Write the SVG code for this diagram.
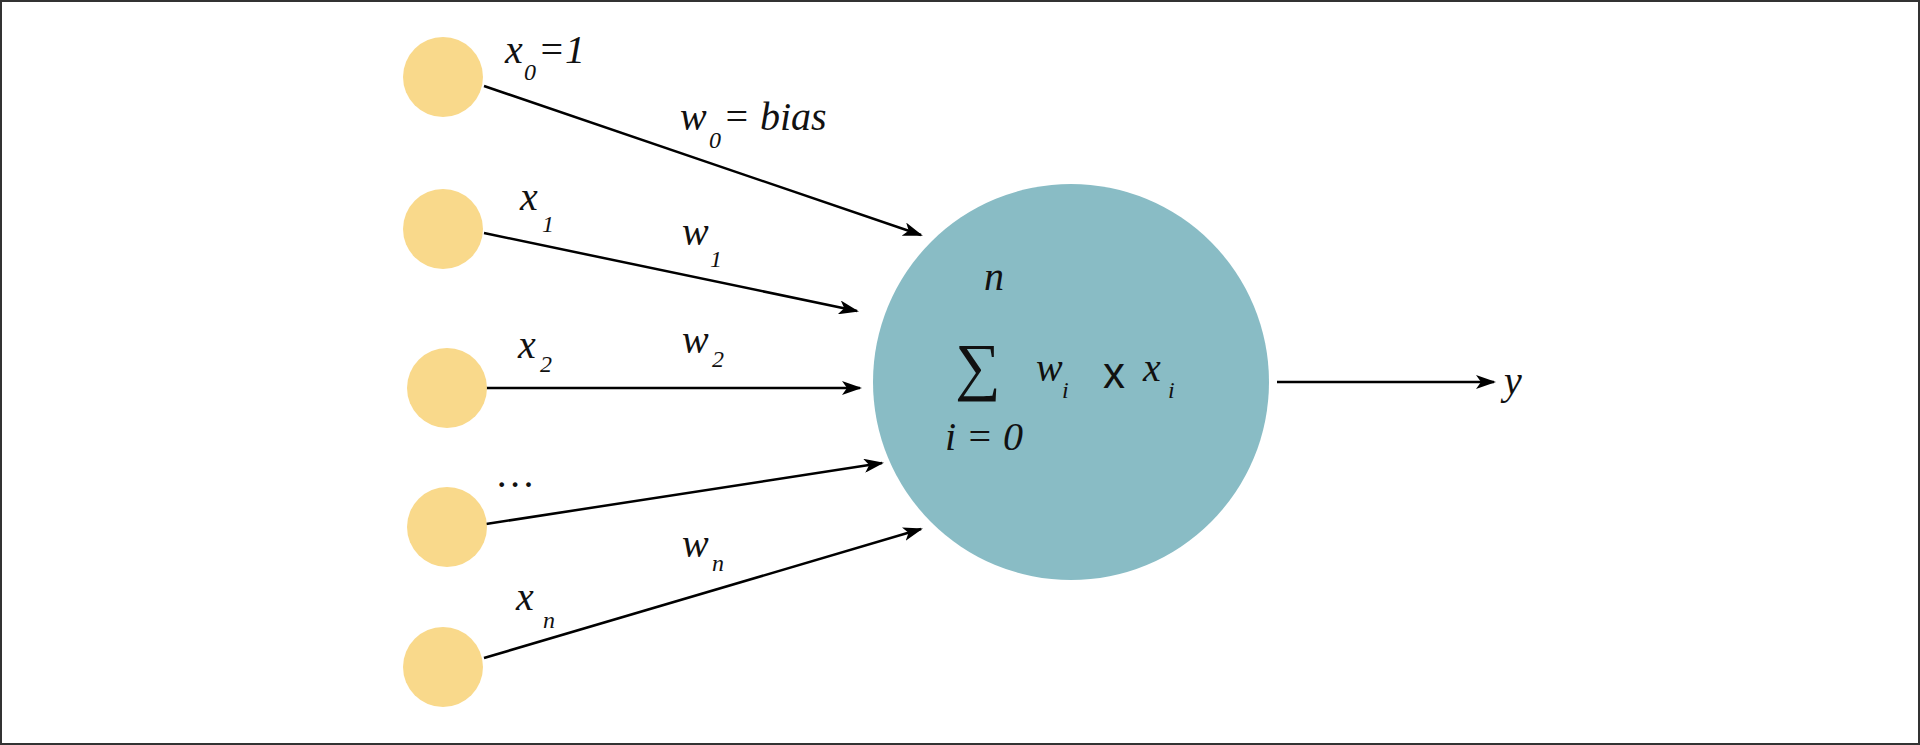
<svg xmlns="http://www.w3.org/2000/svg" width="1920" height="745" viewBox="0 0 1920 745">
<style>
.in{fill:#f9d98b}
.t{font-family:"Liberation Serif",serif;font-style:italic;font-size:40px;fill:#111}
.s{font-family:"Liberation Serif",serif;font-style:italic;font-size:24px;fill:#111}
.c{stroke:#000;stroke-width:2.5;fill:none;marker-end:url(#a)}
</style>
<defs><marker id="a" viewBox="0 0 20 14" refX="18" refY="7" markerWidth="20" markerHeight="14" markerUnits="userSpaceOnUse" orient="auto"><path d="M0,0 L20,7 L0,14 L5,7 Z" fill="#000"/></marker></defs>
<rect x="1" y="1" width="1918" height="743" fill="#fff" stroke="#333" stroke-width="2"/>
<g id="connectors">
<line class="c" x1="484" y1="86" x2="921" y2="235"/>
<line class="c" x1="484" y1="233" x2="857" y2="311"/>
<line class="c" x1="486" y1="388" x2="860" y2="388"/>
<line class="c" x1="486" y1="524" x2="882" y2="463"/>
<line class="c" x1="484" y1="658" x2="921" y2="529"/>
<line class="c" x1="1277" y1="382" x2="1494" y2="382"/>
</g>
<g id="x0"><circle class="in" cx="443" cy="77" r="40"/></g>
<g id="x1"><circle class="in" cx="443" cy="229" r="40"/></g>
<g id="x2"><circle class="in" cx="447" cy="388" r="40"/></g>
<g id="xdots"><circle class="in" cx="447" cy="527" r="40"/></g>
<g id="xn"><circle class="in" cx="443" cy="667" r="40"/></g>
<g id="neuron"><circle cx="1071" cy="382" r="198" fill="#89bcc5"/>
<text class="t" x="984" y="290">n</text>
<text x="955" y="388" font-family="Liberation Serif,serif" font-size="64" fill="#111">∑</text>
<text class="t" x="1036" y="381">w</text><text class="s" x="1062" y="398">i</text>
<text x="1103" y="388" font-family="Liberation Sans,sans-serif" font-size="44" fill="#111">x</text>
<text class="t" x="1143" y="381">x</text><text class="s" x="1168" y="398">i</text>
<text class="t" x="945" y="450">i = 0</text>
</g>
<g id="labels">
<text class="t" x="505" y="63">x</text><text class="s" x="524" y="80">0</text><text class="t" x="538" y="63">=1</text>
<text class="t" x="680" y="130">w</text><text class="s" x="709" y="148">0</text><text class="t" x="723" y="130">= bias</text>
<text class="t" x="520" y="210">x</text><text class="s" x="542" y="232">1</text>
<text class="t" x="682" y="245">w</text><text class="s" x="710" y="267">1</text>
<text class="t" x="518" y="358">x</text><text class="s" x="540" y="372">2</text>
<text class="t" x="682" y="353">w</text><text class="s" x="712" y="367">2</text>
<text class="t" x="498" y="487">…</text>
<text class="t" x="682" y="557">w</text><text class="s" x="712" y="571">n</text>
<text class="t" x="516" y="610">x</text><text class="s" x="543" y="628">n</text>
<text class="t" x="1504" y="394">y</text>
</g>
</svg>
